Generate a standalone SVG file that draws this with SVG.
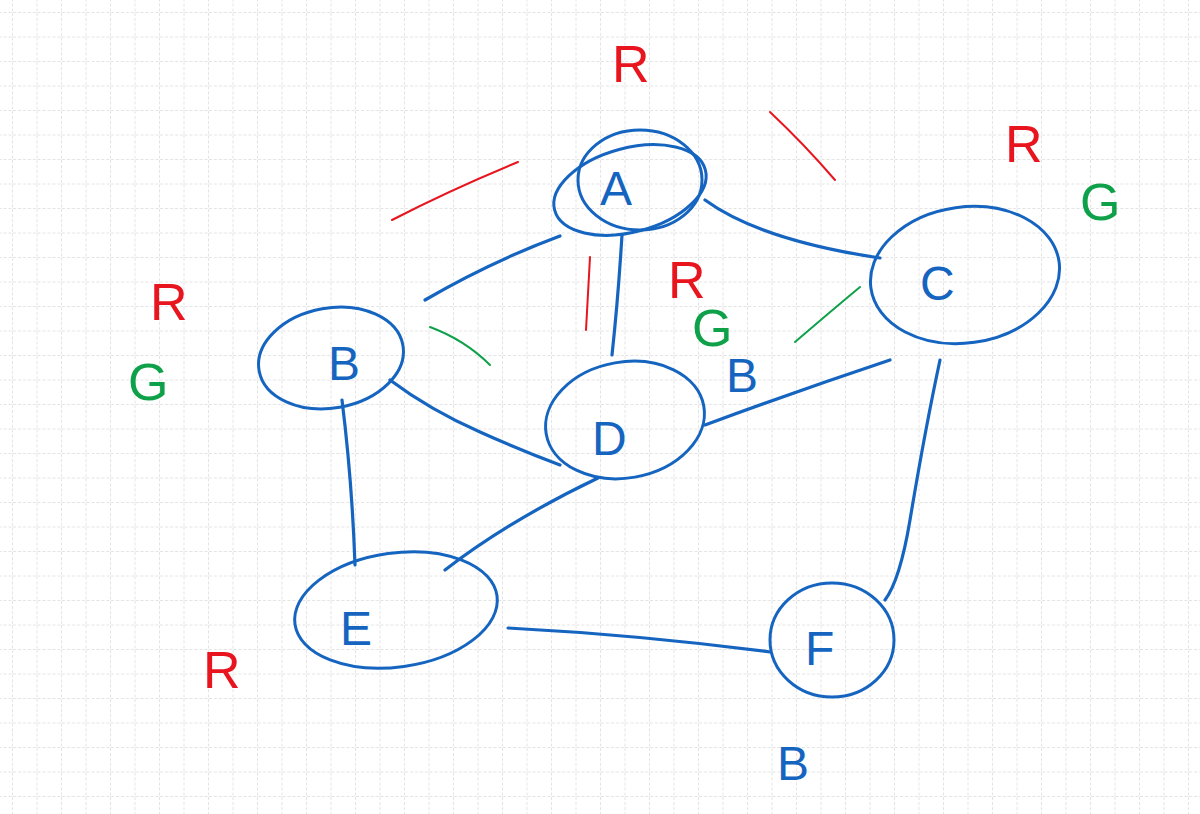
<svg xmlns="http://www.w3.org/2000/svg" width="1200" height="814" viewBox="0 0 1200 814">
<defs>
<pattern id="g" width="24.5" height="24.5" patternUnits="userSpaceOnUse" x="13" y="13">
<path d="M24.5 0V24.5M0 24.5H24.5" fill="none" stroke="#c8c8c8" stroke-width="1" stroke-dasharray="3 2"/>
</pattern>
<style>
.n{fill:none;stroke:#1565c0;stroke-width:3;stroke-linecap:round}
.e{fill:none;stroke:#1565c0;stroke-width:3.2;stroke-linecap:round}
.r{fill:none;stroke:#e8141e;stroke-width:2;stroke-linecap:round}
.gr{fill:none;stroke:#0fa14a;stroke-width:2;stroke-linecap:round}
.t{font-family:"Liberation Sans",sans-serif;font-weight:300}
.tb{fill:#1565c0;font-size:48px}
.tr{fill:#e8141e;font-size:52px}
.tg{fill:#0fa14a;font-size:52px}
</style>
</defs>
<rect width="1200" height="814" fill="#fff"/>
<rect width="1200" height="814" fill="url(#g)"/>
<g id="connectors">
<path class="e" d="M425 300 Q490 262 560 236"/>
<path class="e" d="M705 200 Q760 240 880 258"/>
<path class="e" d="M622 235 Q618 300 612 355"/>
<path class="e" d="M390 380 Q430 410 480 432 Q520 450 560 465"/>
<path class="e" d="M705 425 Q800 390 890 360"/>
<path class="e" d="M342 400 Q352 480 355 565"/>
<path class="e" d="M598 478 Q510 520 445 570"/>
<path class="e" d="M508 628 Q640 635 770 652"/>
<path class="e" d="M940 360 Q925 430 910 520 Q900 580 885 600"/>
</g>
<g id="A"><ellipse class="n" cx="630" cy="190" rx="78" ry="42" transform="rotate(-15 630 190)"/><ellipse class="n" cx="640" cy="180" rx="62" ry="50"/><text class="t tb" x="600" y="205">A</text></g>
<g id="B"><ellipse class="n" cx="331" cy="358" rx="73" ry="50" transform="rotate(-10 331 358)"/><text class="t tb" x="328" y="380" font-size="38">B</text></g>
<g id="C"><ellipse class="n" cx="965" cy="275" rx="95" ry="68" transform="rotate(-8 965 275)"/><text class="t tb" x="920" y="300" font-size="64">C</text></g>
<g id="D"><ellipse class="n" cx="625" cy="420" rx="80" ry="58" transform="rotate(-10 625 420)"/><text class="t tb" x="592" y="455" font-size="58">D</text></g>
<g id="E"><ellipse class="n" cx="396" cy="610" rx="102" ry="57" transform="rotate(-8 396 610)"/><text class="t tb" x="340" y="645" font-size="52">E</text></g>
<g id="F"><ellipse class="n" cx="832" cy="640" rx="62" ry="57"/><text class="t tb" x="805" y="665" font-size="48">F</text></g>
<g id="marks">
<path class="r" d="M392 220 Q450 190 518 162"/>
<path class="r" d="M770 112 Q805 145 835 180"/>
<path class="r" d="M590 257 Q588 295 586 330"/>
<path class="gr" d="M430 327 Q465 340 490 365"/>
<path class="gr" d="M795 342 Q830 312 860 287"/>
<text class="t tr" x="612" y="82">R</text>
<text class="t tr" x="1005" y="162" font-size="64">R</text>
<text class="t tr" x="150" y="320" font-size="62">R</text>
<text class="t tr" x="203" y="688">R</text>
<text class="t tr" x="668" y="298" font-size="44">R</text>
<text class="t tg" x="128" y="400">G</text>
<text class="t tg" x="1080" y="220" font-size="48">G</text>
<text class="t tg" x="692" y="346" font-size="38">G</text>
<text class="t tb" x="726" y="392" font-size="36">B</text>
<text class="t tb" x="777" y="780" font-size="46">B</text>
</g>
</svg>
